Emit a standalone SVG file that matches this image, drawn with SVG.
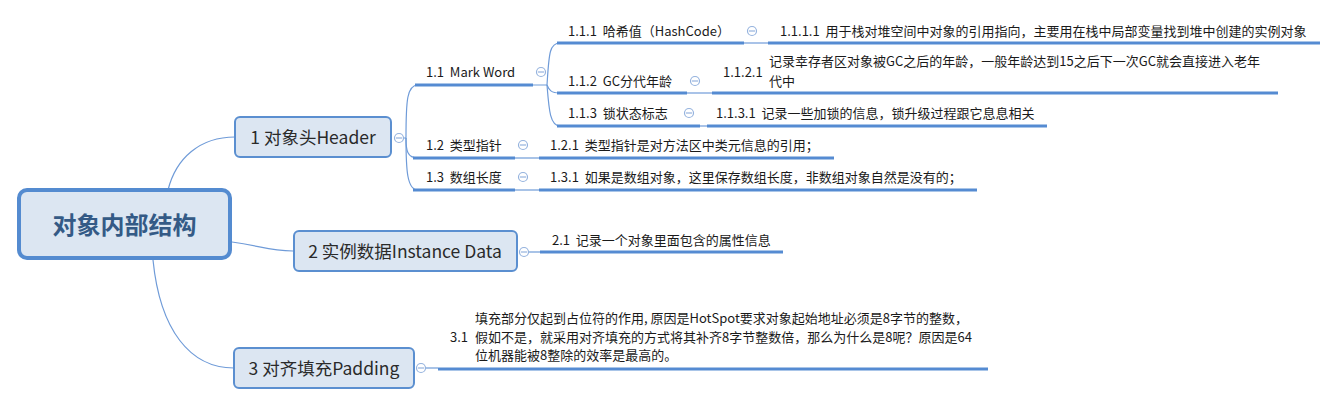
<svg xmlns="http://www.w3.org/2000/svg" width="1337" height="405" viewBox="0 0 1337 405">
<style>
.t{font-family:"Microsoft YaHei","Noto Sans CJK SC","Liberation Sans",sans-serif;font-size:13px;fill:#1a1a1a}
.n{font-family:"Microsoft YaHei","Noto Sans CJK SC","Liberation Sans",sans-serif;font-size:17.5px;fill:#2a2a2a}
.r{font-family:"Microsoft YaHei","Noto Sans CJK SC","Liberation Sans",sans-serif;font-size:24px;font-weight:bold;fill:#345a86}
.box{fill:#dce6f2;stroke:#5b8fd0;stroke-width:2}
.ul{stroke:#558bd2;stroke-width:3;fill:none}
.c{stroke:#6f9bd8;stroke-width:1.2;fill:none}
.col circle{fill:#fff;stroke:#95b3de;stroke-width:1.2}
.col line{stroke:#95b3de;stroke-width:1.2}
</style>
<rect width="1337" height="405" fill="#fff"/>
<g id="connectors">
<path class="c" d="M168,190 C176,158 200,137 235,137"/>
<path class="c" d="M232,242 C262,246 268,251 293,251"/>
<path class="c" d="M153,260 C160,330 190,368 234,368"/>
<path class="c" d="M403,138 L406,138 C406,100 407,85 418,85"/>
<path class="c" d="M406,138 C406,150 407,158 418,158"/>
<path class="c" d="M406,138 C406,170 407,190 418,190"/>
<path class="c" d="M533,85 L547,85 C549,55 549,43 560,43"/>
<path class="c" d="M547,85 C549,90 551,93 560,93"/>
<path class="c" d="M547,85 C549,110 550,126 560,126"/>
<path class="c" d="M744,43 L768,43"/>
<path class="c" d="M687,93 L712,93"/>
<path class="c" d="M700,126 L707,126"/>
<path class="c" d="M515,158 L539,158"/>
<path class="c" d="M515,190 L539,190"/>
<path class="c" d="M528,252 L540,252"/>
<path class="c" d="M425,368 L438,368"/>
</g>
<g id="root">
<rect x="19" y="190" width="211" height="68" rx="8" fill="#dce6f2" stroke="#548bd0" stroke-width="4"/>
<text class="r" x="124.5" y="233.5" text-anchor="middle">对象内部结构</text>
</g>
<g id="n1">
<rect class="box" x="235" y="117" width="156" height="40" rx="5"/>
<text class="n" x="313" y="143.5" text-anchor="middle">1 对象头Header</text>
<g class="col"><circle cx="399" cy="138" r="4.5"/><line x1="396" y1="138" x2="402" y2="138"/></g>
</g>
<g id="n2">
<rect class="box" x="294" y="231" width="223" height="40" rx="5"/>
<text class="n" x="405" y="257.5" text-anchor="middle">2 实例数据Instance Data</text>
<g class="col"><circle cx="524" cy="252" r="4.5"/><line x1="521" y1="252" x2="527" y2="252"/></g>
</g>
<g id="n3">
<rect class="box" x="234" y="348" width="180" height="40" rx="5"/>
<text class="n" x="324" y="374.5" text-anchor="middle">3 对齐填充Padding</text>
<g class="col"><circle cx="421" cy="368" r="4.5"/><line x1="418" y1="368" x2="424" y2="368"/></g>
</g>
<g id="n1_1">
<path class="ul" d="M415,85 H533"/>
<text class="t" x="426" y="77">1.1&#160;&#160;Mark Word</text>
<g class="col"><circle cx="541" cy="72" r="4.5"/><line x1="538" y1="72" x2="544" y2="72"/></g>
</g>
<g id="n1_1_1">
<path class="ul" d="M557,43 H744"/>
<text class="t" x="568" y="36">1.1.1&#160;&#160;哈希值（HashCode）</text>
<g class="col"><circle cx="752" cy="31" r="4.5"/><line x1="749" y1="31" x2="755" y2="31"/></g>
</g>
<g id="n1_1_1_1">
<path class="ul" d="M768,43 H1320"/>
<text class="t" x="780" y="36">1.1.1.1&#160;&#160;用于栈对堆空间中对象的引用指向，主要用在栈中局部变量找到堆中创建的实例对象</text>
</g>
<g id="n1_1_2">
<path class="ul" d="M557,93 H687"/>
<text class="t" x="568" y="86">1.1.2&#160;&#160;GC分代年龄</text>
<g class="col"><circle cx="695" cy="81" r="4.5"/><line x1="692" y1="81" x2="698" y2="81"/></g>
</g>
<g id="n1_1_2_1">
<path class="ul" d="M712,93 H1278"/>
<text class="t" x="723" y="77">1.1.2.1</text>
<text class="t" x="769" y="66">记录幸存者区对象被GC之后的年龄，一般年龄达到15之后下一次GC就会直接进入老年</text>
<text class="t" x="769" y="86">代中</text>
</g>
<g id="n1_1_3">
<path class="ul" d="M557,126 H700"/>
<text class="t" x="568" y="118">1.1.3&#160;&#160;锁状态标志</text>
<g class="col"><circle cx="689" cy="113" r="4.5"/><line x1="686" y1="113" x2="692" y2="113"/></g>
</g>
<g id="n1_1_3_1">
<path class="ul" d="M707,126 H1047"/>
<text class="t" x="716" y="118">1.1.3.1&#160;&#160;记录一些加锁的信息，锁升级过程跟它息息相关</text>
</g>
<g id="n1_2">
<path class="ul" d="M413,158 H515"/>
<text class="t" x="426" y="150">1.2&#160;&#160;类型指针</text>
<g class="col"><circle cx="523" cy="145" r="4.5"/><line x1="520" y1="145" x2="526" y2="145"/></g>
</g>
<g id="n1_2_1">
<path class="ul" d="M539,158 H834"/>
<text class="t" x="550" y="150">1.2.1&#160;&#160;类型指针是对方法区中类元信息的引用；</text>
</g>
<g id="n1_3">
<path class="ul" d="M413,190 H515"/>
<text class="t" x="426" y="182">1.3&#160;&#160;数组长度</text>
<g class="col"><circle cx="523" cy="177" r="4.5"/><line x1="520" y1="177" x2="526" y2="177"/></g>
</g>
<g id="n1_3_1">
<path class="ul" d="M539,190 H977"/>
<text class="t" x="550" y="182">1.3.1&#160;&#160;如果是数组对象，这里保存数组长度，非数组对象自然是没有的；</text>
</g>
<g id="n2_1">
<path class="ul" d="M540,252 H783"/>
<text class="t" x="552" y="245">2.1&#160;&#160;记录一个对象里面包含的属性信息</text>
</g>
<g id="n3_1">
<path class="ul" d="M438,369 H988"/>
<text class="t" x="450" y="342">3.1</text>
<text class="t" x="475" y="323">填充部分仅起到占位符的作用, 原因是HotSpot要求对象起始地址必须是8字节的整数，</text>
<text class="t" x="475" y="341.5">假如不是，就采用对齐填充的方式将其补齐8字节整数倍，那么为什么是8呢？原因是64</text>
<text class="t" x="475" y="360">位机器能被8整除的效率是最高的。</text>
</g>
</svg>
